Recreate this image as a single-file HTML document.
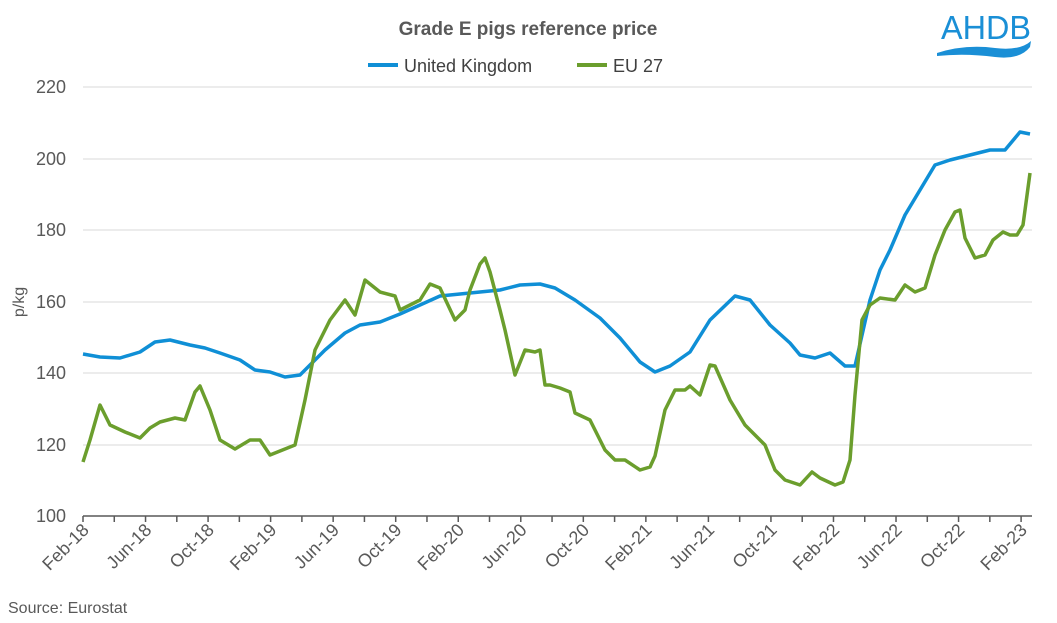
<!DOCTYPE html>
<html><head><meta charset="utf-8"><style>
body{margin:0;background:#fff;}
svg{display:block;font-family:"Liberation Sans",Arial,sans-serif;}
</style></head><body>
<svg width="1057" height="623" viewBox="0 0 1057 623">
<rect width="1057" height="623" fill="#fff"/>
<text x="528" y="35" text-anchor="middle" font-size="19" font-weight="bold" fill="#595959">Grade E pigs reference price</text>
<line x1="368" y1="65" x2="398" y2="65" stroke="#0F8FD6" stroke-width="4"/>
<text x="404" y="72" font-size="18" fill="#404040">United Kingdom</text>
<line x1="577" y1="65" x2="607" y2="65" stroke="#6B9E2D" stroke-width="4"/>
<text x="613" y="72" font-size="18" fill="#404040">EU 27</text>
<text x="986" y="39" text-anchor="middle" font-size="33" fill="#1a8fd6" textLength="90" lengthAdjust="spacingAndGlyphs">AHDB</text>
<path d="M937 53 Q965 44 995 48 Q1020 51 1031 41 L1030 47 Q1020 60 995 57 Q965 53 937 56 Z" fill="#1a8fd6"/>
<g stroke="#d9d9d9" stroke-width="1">
<line x1="83" y1="87" x2="1032" y2="87"/><line x1="83" y1="159" x2="1032" y2="159"/>
<line x1="83" y1="230" x2="1032" y2="230"/><line x1="83" y1="302" x2="1032" y2="302"/>
<line x1="83" y1="373" x2="1032" y2="373"/><line x1="83" y1="445" x2="1032" y2="445"/>
</g>
<line x1="83" y1="516" x2="1032" y2="516" stroke="#595959" stroke-width="1.5"/>
<g stroke="#595959" stroke-width="1.5" id="ticks"></g>
<g font-size="18" fill="#595959" text-anchor="end">
<text x="66" y="93">220</text><text x="66" y="165">200</text><text x="66" y="236">180</text>
<text x="66" y="308">160</text><text x="66" y="379">140</text><text x="66" y="451">120</text><text x="66" y="522">100</text>
</g>
<text transform="translate(24,302) rotate(-90)" text-anchor="middle" font-size="16" fill="#595959">p/kg</text>
<g font-size="18" fill="#595959" text-anchor="end" id="xl"></g>
<text x="8" y="613" font-size="16" fill="#595959">Source: Eurostat</text>
<polyline fill="none" stroke="#0F8FD6" stroke-width="3.5" stroke-linejoin="round" points="83,354 100,357 120,358 140,352 155,342 170,340 190,345 205,348 220,353 240,360 255,370 270,372 285,377 300,375 310,365 325,350 345,333 360,325 380,322 400,314 420,305 440,296 460,294 480,292 500,290 520,285 540,284 555,288 575,300 600,318 620,338 640,362 655,372 670,366 690,352 710,320 735,296 750,300 770,325 790,343 800,355 815,358 830,353 845,366 855,366 870,300 880,270 890,250 905,215 920,190 935,165 950,160 970,155 990,150 1005,150 1020,132 1030,134"/>
<polyline fill="none" stroke="#6B9E2D" stroke-width="3.5" stroke-linejoin="round" points="83,462 90,440 100,405 110,425 125,432 140,438 150,428 160,422 175,418 185,420 195,392 200,386 210,410 220,440 235,449 250,440 260,440 270,455 280,451 295,445 305,400 315,350 330,320 345,300 355,315 365,280 380,292 395,296 400,310 410,305 420,300 430,284 440,288 455,320 465,310 470,290 480,264 485,258 490,272 500,310 505,330 515,375 525,350 535,352 540,350 545,385 550,385 560,388 570,392 575,413 590,420 605,450 615,460 625,460 640,470 650,467 655,456 665,410 675,390 685,390 690,386 700,395 710,365 715,366 730,400 745,425 765,445 775,470 785,480 800,485 812,472 820,478 835,485 843,482 850,460 855,395 862,320 870,305 880,298 895,300 905,285 915,292 925,288 935,255 945,230 955,212 960,210 965,238 975,258 985,255 993,240 1003,232 1010,235 1017,235 1023,225 1030,173"/>
<script>
var t=document.getElementById('ticks'),xl=document.getElementById('xl'),ns='http://www.w3.org/2000/svg';
for(var i=0;i<=30;i++){var x=83+i*31.27;var l=document.createElementNS(ns,'line');l.setAttribute('x1',x);l.setAttribute('x2',x);l.setAttribute('y1',516);l.setAttribute('y2',522);t.appendChild(l);}
var labs=['Feb-18','Jun-18','Oct-18','Feb-19','Jun-19','Oct-19','Feb-20','Jun-20','Oct-20','Feb-21','Jun-21','Oct-21','Feb-22','Jun-22','Oct-22','Feb-23'];
labs.forEach(function(s,i){var x=83+i*62.54+7;var e=document.createElementNS(ns,'text');e.setAttribute('transform','translate('+x+',531) rotate(-45)');e.textContent=s;xl.appendChild(e);});
</script>
</svg>
</body></html>
